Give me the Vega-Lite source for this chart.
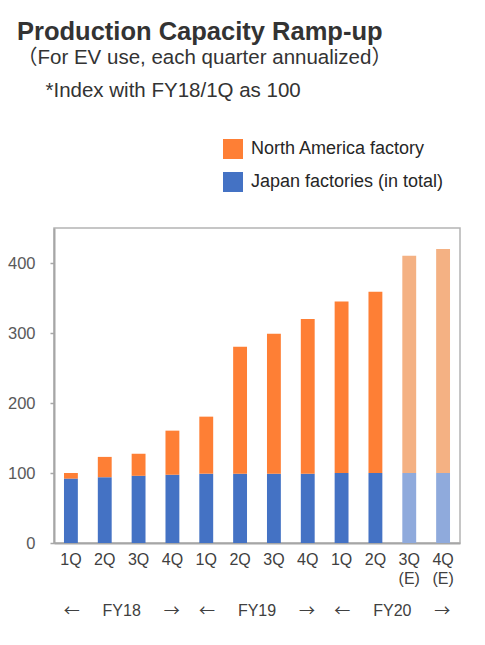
{
  "$schema": "https://vega.github.io/schema/vega-lite/v6.json",
  "width": 406,
  "height": 315,
  "autosize": {"type": "none"},
  "padding": {"left": 54, "top": 228, "right": 25, "bottom": 102},
  "background": "white",
  "title": {
    "text": "Production Capacity Ramp-up",
    "subtitle": ["（For EV use, each quarter annualized）", "\u200b\u00a0\u00a0\u00a0\u00a0\u00a0*Index with FY18/1Q as 100"],
    "anchor": "start",
    "frame": "group",
    "dx": -37,
    "offset": 38,
    "font": "Liberation Sans",
    "fontSize": 25.5,
    "fontWeight": "bold",
    "color": "#333333",
    "subtitleFont": "Liberation Sans, Noto Sans CJK JP",
    "subtitleFontSize": 20.5,
    "subtitleColor": "#333333",
    "subtitleLineHeight": 33,
    "subtitlePadding": 2
  },
  "config": {
    "view": {"stroke": "#B4B4B4", "strokeWidth": 1.5},
    "axis": {
      "labelFont": "Liberation Sans",
      "labelFontSize": 16,
      "labelColor": "#595959",
      "domainColor": "#A6A6A6",
      "domainWidth": 2,
      "tickColor": "#A6A6A6",
      "tickWidth": 1.5,
      "grid": false,
      "title": null
    }
  },
  "datasets": {
    "periods": [
      {"q": "FY18|3Q", "fy": "FY18"},
      {"q": "FY19|3Q", "fy": "FY19"},
      {"q": "FY20|3Q|(E)", "fy": "FY20"}
    ]
  },
  "layer": [
    {
      "data": {
        "values": [
          {"q": "FY18|1Q", "series": "Japan factories (in total)", "value": 92},
          {"q": "FY18|1Q", "series": "North America factory", "value": 8},
          {"q": "FY18|2Q", "series": "Japan factories (in total)", "value": 94},
          {"q": "FY18|2Q", "series": "North America factory", "value": 29},
          {"q": "FY18|3Q", "series": "Japan factories (in total)", "value": 96},
          {"q": "FY18|3Q", "series": "North America factory", "value": 31.5},
          {"q": "FY18|4Q", "series": "Japan factories (in total)", "value": 97.5},
          {"q": "FY18|4Q", "series": "North America factory", "value": 63},
          {"q": "FY19|1Q", "series": "Japan factories (in total)", "value": 99},
          {"q": "FY19|1Q", "series": "North America factory", "value": 81.5},
          {"q": "FY19|2Q", "series": "Japan factories (in total)", "value": 99},
          {"q": "FY19|2Q", "series": "North America factory", "value": 181.5},
          {"q": "FY19|3Q", "series": "Japan factories (in total)", "value": 99},
          {"q": "FY19|3Q", "series": "North America factory", "value": 200},
          {"q": "FY19|4Q", "series": "Japan factories (in total)", "value": 99},
          {"q": "FY19|4Q", "series": "North America factory", "value": 221},
          {"q": "FY20|1Q", "series": "Japan factories (in total)", "value": 100},
          {"q": "FY20|1Q", "series": "North America factory", "value": 245},
          {"q": "FY20|2Q", "series": "Japan factories (in total)", "value": 100},
          {"q": "FY20|2Q", "series": "North America factory", "value": 259},
          {"q": "FY20|3Q|(E)", "series": "Japan factories (E)", "value": 100},
          {"q": "FY20|3Q|(E)", "series": "North America factory (E)", "value": 310.5},
          {"q": "FY20|4Q|(E)", "series": "Japan factories (E)", "value": 100},
          {"q": "FY20|4Q|(E)", "series": "North America factory (E)", "value": 320}
        ]
      },
      "mark": {"type": "bar"},
      "encoding": {
        "x": {
          "field": "q",
          "type": "ordinal",
          "scale": {"paddingInner": 0.59, "paddingOuter": 0.295},
          "axis": {
            "labelExpr": "slice(split(datum.value, '|'), 1)",
            "labelAngle": 0,
            "labelColor": "#404040",
            "labelLineHeight": 19,
            "labelPadding": 8,
            "labelOverlap": false,
            "ticks": false
          }
        },
        "y": {
          "field": "value",
          "type": "quantitative",
          "stack": "zero",
          "scale": {"domain": [0, 450], "nice": false},
          "axis": {"values": [0, 100, 200, 300, 400], "tickSize": 4, "labelPadding": 15, "labelFontSize": 16.5}
        },
        "color": {
          "field": "series",
          "type": "nominal",
          "scale": {
            "domain": ["North America factory", "Japan factories (in total)", "North America factory (E)", "Japan factories (E)"],
            "range": ["#FE7F35", "#4472C4", "#F4B183", "#8FAADC"]
          },
          "legend": {
            "values": ["North America factory", "Japan factories (in total)"],
            "orient": "none",
            "legendX": 169,
            "legendY": -89,
            "title": null,
            "padding": 0,
            "symbolType": "square",
            "symbolSize": 400,
            "symbolStrokeWidth": 0,
            "rowPadding": 13,
            "labelFont": "Liberation Sans",
            "labelFontSize": 18,
            "labelColor": "#262626",
            "labelOffset": 8,
            "labelLimit": 300
          }
        },
        "order": {"field": "series", "sort": "ascending"}
      }
    },
    {
      "data": {"name": "periods"},
      "mark": {"type": "text", "dx": -16.9, "font": "Liberation Sans", "fontSize": 16, "color": "#404040", "baseline": "middle"},
      "encoding": {
        "x": {"field": "q", "type": "ordinal"},
        "y": {"datum": -97},
        "text": {"field": "fy"}
      }
    },
    {
      "data": {"name": "periods"},
      "mark": {"type": "text", "dx": -66.9, "font": "Noto Sans CJK JP", "fontSize": 16, "color": "#404040", "baseline": "middle"},
      "encoding": {
        "x": {"field": "q", "type": "ordinal"},
        "y": {"datum": -97},
        "text": {"value": "←"}
      }
    },
    {
      "data": {"name": "periods"},
      "mark": {"type": "text", "dx": 33.1, "font": "Noto Sans CJK JP", "fontSize": 16, "color": "#404040", "baseline": "middle"},
      "encoding": {
        "x": {"field": "q", "type": "ordinal"},
        "y": {"datum": -97},
        "text": {"value": "→"}
      }
    }
  ]
}
